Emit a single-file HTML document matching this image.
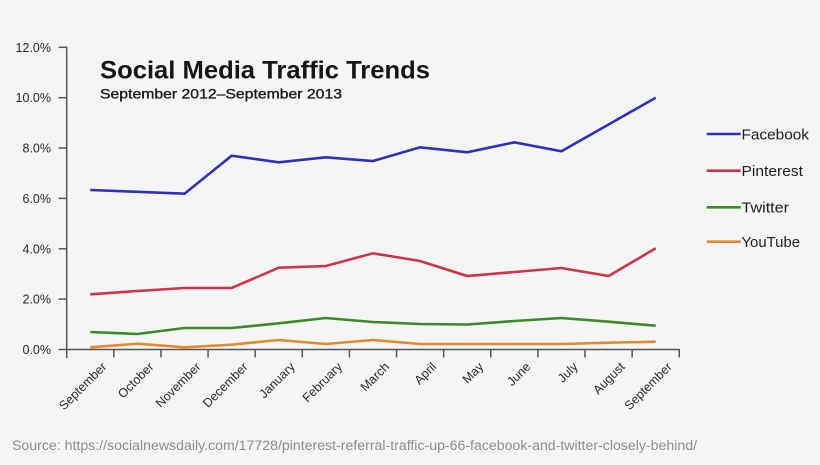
<!DOCTYPE html>
<html><head><meta charset="utf-8"><style>
html,body{margin:0;padding:0;background:#f5f5f5;}
svg{display:block;}
text{font-family:"Liberation Sans",sans-serif;}
</style></head><body>
<svg width="820" height="465" viewBox="0 0 820 465" xmlns="http://www.w3.org/2000/svg">
<rect width="820" height="465" fill="#f5f5f5"/>
<!-- title -->
<text x="100" y="78.5" font-size="25" font-weight="bold" fill="#161616" textLength="330" lengthAdjust="spacingAndGlyphs">Social Media Traffic Trends</text>
<text x="100" y="98.5" font-size="14" fill="#1a1a1a" stroke="#1a1a1a" stroke-width="0.35" textLength="242" lengthAdjust="spacingAndGlyphs">September 2012–September 2013</text>
<!-- axes -->
<g stroke="#555" stroke-width="1.5" fill="none">
<line x1="66.7" y1="46.5" x2="66.7" y2="358"/>
<line x1="66" y1="349.5" x2="679.3" y2="349.5"/>
<line x1="58.5" y1="47.3" x2="66.7" y2="47.3"/>
<line x1="58.5" y1="97.7" x2="66.7" y2="97.7"/>
<line x1="58.5" y1="148" x2="66.7" y2="148"/>
<line x1="58.5" y1="198.4" x2="66.7" y2="198.4"/>
<line x1="58.5" y1="248.8" x2="66.7" y2="248.8"/>
<line x1="58.5" y1="299.1" x2="66.7" y2="299.1"/>
<line x1="58.5" y1="349.5" x2="66.7" y2="349.5"/>
<line x1="113.82" y1="349.5" x2="113.82" y2="357.5"/>
<line x1="160.94" y1="349.5" x2="160.94" y2="357.5"/>
<line x1="208.06" y1="349.5" x2="208.06" y2="357.5"/>
<line x1="255.18" y1="349.5" x2="255.18" y2="357.5"/>
<line x1="302.3" y1="349.5" x2="302.3" y2="357.5"/>
<line x1="349.42" y1="349.5" x2="349.42" y2="357.5"/>
<line x1="396.54" y1="349.5" x2="396.54" y2="357.5"/>
<line x1="443.66" y1="349.5" x2="443.66" y2="357.5"/>
<line x1="490.78" y1="349.5" x2="490.78" y2="357.5"/>
<line x1="537.9" y1="349.5" x2="537.9" y2="357.5"/>
<line x1="585.02" y1="349.5" x2="585.02" y2="357.5"/>
<line x1="632.14" y1="349.5" x2="632.14" y2="357.5"/>
<line x1="679.26" y1="349" x2="679.26" y2="357.5"/>
</g>
<!-- y labels -->
<g font-size="12.5" fill="#2a2a2a" text-anchor="end">
<text x="51" y="51.8">12.0%</text>
<text x="51" y="102.2">10.0%</text>
<text x="51" y="152.5">8.0%</text>
<text x="51" y="202.9">6.0%</text>
<text x="51" y="253.3">4.0%</text>
<text x="51" y="303.6">2.0%</text>
<text x="51" y="354">0.0%</text>
</g>
<!-- x labels -->
<g font-size="12.5" fill="#2a2a2a" text-anchor="end">
<text transform="translate(107.3,367.5) rotate(-45)">September</text>
<text transform="translate(154.4,367.5) rotate(-45)">October</text>
<text transform="translate(201.5,367.5) rotate(-45)">November</text>
<text transform="translate(248.6,367.5) rotate(-45)">December</text>
<text transform="translate(295.7,367.5) rotate(-45)">January</text>
<text transform="translate(342.9,367.5) rotate(-45)">February</text>
<text transform="translate(390,367.5) rotate(-45)">March</text>
<text transform="translate(437.1,367.5) rotate(-45)">April</text>
<text transform="translate(484.2,367.5) rotate(-45)">May</text>
<text transform="translate(531.3,367.5) rotate(-45)">June</text>
<text transform="translate(578.5,367.5) rotate(-45)">July</text>
<text transform="translate(625.6,367.5) rotate(-45)">August</text>
<text transform="translate(672.7,367.5) rotate(-45)">September</text>
</g>
<!-- series -->
<g fill="none" stroke-width="2.6" stroke-linejoin="miter">
<polyline stroke="#2f2fc4" points="90.26,190 137.38,191.8 184.5,193.7 231.62,155.7 278.74,162.3 325.86,157.3 372.98,161 420.1,147.3 467.22,152.3 514.34,142.3 561.46,151.3 608.58,124.5 655.7,97.7"/>
<polyline stroke="#cf3347" points="90.26,294.3 137.38,291 184.5,288 231.62,288 278.74,267.7 325.86,266 372.98,253.3 420.1,261 467.22,276 514.34,272 561.46,268 608.58,276 655.7,248.3"/>
<polyline stroke="#3b8a26" points="90.26,332 137.38,334 184.5,328 231.62,328 278.74,323.3 325.86,318 372.98,322 420.1,324 467.22,324.5 514.34,321 561.46,318 608.58,321.7 655.7,325.7"/>
<polyline stroke="#e38a2e" points="90.26,347.3 137.38,343.7 184.5,347.3 231.62,344.7 278.74,340 325.86,344 372.98,340 420.1,344 467.22,344 514.34,344 561.46,344 608.58,342.7 655.7,341.7"/>
</g>
<!-- legend -->
<g stroke-width="2.6">
<line x1="706.7" y1="134" x2="740.7" y2="134" stroke="#2f2fc4"/>
<line x1="706.7" y1="170.7" x2="740.7" y2="170.7" stroke="#cf3347"/>
<line x1="706.7" y1="207.3" x2="740.7" y2="207.3" stroke="#3b8a26"/>
<line x1="706.7" y1="241.7" x2="740.7" y2="241.7" stroke="#e38a2e"/>
</g>
<g font-size="14.5" fill="#1e1e1e">
<text x="741.5" y="139.3" textLength="67.5" lengthAdjust="spacingAndGlyphs">Facebook</text>
<text x="741.5" y="176" textLength="61.5" lengthAdjust="spacingAndGlyphs">Pinterest</text>
<text x="741.5" y="212.6" textLength="47.5" lengthAdjust="spacingAndGlyphs">Twitter</text>
<text x="741.5" y="247" textLength="58.5" lengthAdjust="spacingAndGlyphs">YouTube</text>
</g>
<!-- source -->
<text x="12" y="450" font-size="13.5" fill="#8c8c8c" textLength="685" lengthAdjust="spacingAndGlyphs">Source: https://socialnewsdaily.com/17728/pinterest-referral-traffic-up-66-facebook-and-twitter-closely-behind/</text>
</svg>
</body></html>
